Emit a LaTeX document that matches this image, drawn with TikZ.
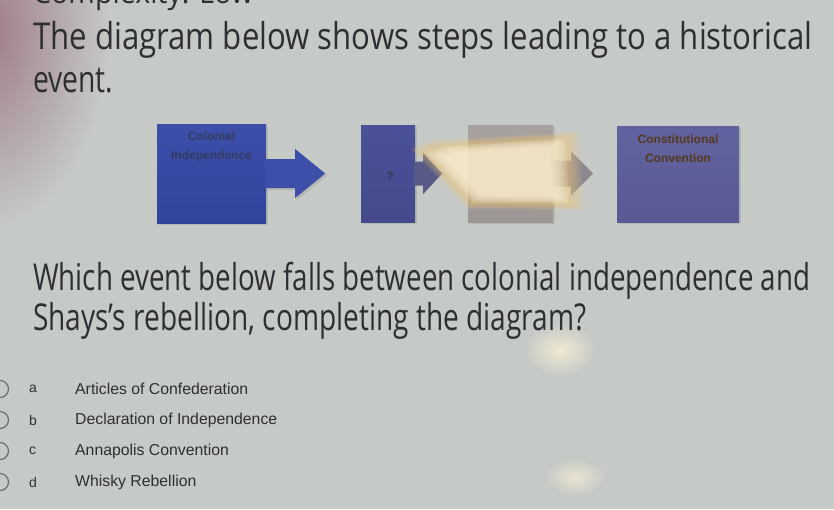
\documentclass[tikz,border=0pt]{standalone}
\usepackage{fontspec}
\usepackage{graphicx}
\setmainfont{Open Sans}
\newfontfamily\optfont{Liberation Sans}
\usetikzlibrary{positioning, calc, shadows, fadings}

\definecolor{paper}{HTML}{C6CAC6}
\definecolor{paperpink}{HTML}{9C7882}
\definecolor{ink}{HTML}{2E2F33}
\definecolor{stepA}{HTML}{3D4FA8}
\definecolor{stepAd}{HTML}{32439C}
\definecolor{stepB}{HTML}{4B5198}
\definecolor{stepBd}{HTML}{454A8C}
\definecolor{stepC}{HTML}{A7A2A0}
\definecolor{stepCd}{HTML}{9C9795}
\definecolor{stepD}{HTML}{6163A0}
\definecolor{stepDd}{HTML}{595A93}
\definecolor{arrowB}{HTML}{575A86}
\definecolor{arrowC}{HTML}{8D8890}
\definecolor{glaregold}{HTML}{F0C676}
\definecolor{glarecream}{HTML}{FBF1D6}

\tikzfading[name=softspot, inner color=transparent!0, outer color=transparent!100]

% squeeze a line of text to a given width
\newcommand{\fitline}[2]{\resizebox{#1}{\height}{#2}}

\begin{document}
\begin{tikzpicture}[x=1pt, y=-1pt,
    every node/.style={inner sep=0pt},
    headtxt/.style={anchor=base west, text=ink, font=\fontsize{37}{37}\selectfont},
    stepbox/.style={minimum width=#1, drop shadow={opacity=0.25, shadow xshift=2pt, shadow yshift=-2pt}},
    steptxt/.style={align=center, font=\optfont\bfseries\fontsize{12}{19}\selectfont},
    opttxt/.style={anchor=west, text=ink, font=\optfont\fontsize{15.8}{16}\selectfont},
    optletter/.style={anchor=west, text=ink, font=\optfont\fontsize{14}{14}\selectfont},
    radio/.style={draw=ink!70, line width=1.2pt}]

    % Background
    \useasboundingbox (0,0) rectangle (834,509);
    \fill[paper] (0,0) rectangle (834,509);
    \fill[paperpink, path fading=softspot] (-20,30) ellipse (130 and 200);

    % Heading, cut at the top
    \node[headtxt, font=\fontsize{30}{30}\selectfont] (cut) at (33,3) {\fitline{220pt}{Complexity: Low}};
    \node[headtxt] (head1) at (33,49) {\fitline{779pt}{The diagram below shows steps leading to a historical}};
    \node[headtxt] (head2) at (33,92) {\fitline{80pt}{event.}};

    % Steps
    \node[stepbox=109pt, minimum height=99pt, top color=stepA, bottom color=stepAd] (c1) at (211.5,173.5) {};
    \node[stepbox=54pt, minimum height=97pt, top color=stepB, bottom color=stepBd] (c2) at (388,173.5) {};
    \node[stepbox=85pt, minimum height=97pt, top color=stepC, bottom color=stepCd] (c3) at (510.5,173.5) {};
    \node[stepbox=122pt, minimum height=96pt, top color=stepD, bottom color=stepDd] (c4) at (678,174) {};

    % Arrows
    \fill[stepA, drop shadow={opacity=0.25, shadow xshift=2pt, shadow yshift=-2pt}]
        ($(c1.east)+(-1,-14.5)$) -- ++(30,0) -- ++(0,-10) -- ($(c1.east)+(59,0)$)
        -- ($(c1.east)+(29,24.5)$) -- ++(0,-10) -- ($(c1.east)+(-1,14.5)$) -- cycle;
    \fill[arrowB]
        ($(c2.east)+(-1,-12)$) -- ++(9,0) -- ++(0,-8.5) -- ($(c2.east)+(27,0)$)
        -- ($(c2.east)+(8,20.5)$) -- ++(0,-8.5) -- ($(c2.east)+(-1,12)$) -- cycle;
    \fill[arrowC]
        ($(c3.east)+(-1,-13)$) -- ++(19,0) -- ++(0,-9) -- ($(c3.east)+(40,0)$)
        -- ($(c3.east)+(18,22)$) -- ++(0,-9) -- ($(c3.east)+(-1,13)$) -- cycle;

    % Labels in the steps
    \node[steptxt, text=ink!60!stepA, below=8pt of c1.north] (t1) {Colonial\\Independence};
    \node[steptxt, text=ink!80!stepB, font=\optfont\bfseries\fontsize{12}{12}\selectfont] (t2) at ($(c2.center)+(2,3)$) {?};
    \node[steptxt, text=brown!45!black, below=9pt of c4.north] (t4) {Constitutional\\Convention};

    % Glare on the screen
    \foreach \s in {1.16,1.12,...,0.96}
        \fill[glaregold, opacity=0.13, scale around={\s:(500,172)}]
            (423,152) -- (440,145) -- (568,137) -- (572,205) -- (472,204) -- cycle;
    \foreach \s in {0.96,0.92,...,0.7}
        \fill[glarecream, opacity=0.2, scale around={\s:(505,172)}]
            (423,152) -- (440,145) -- (568,137) -- (572,205) -- (472,204) -- cycle;
    \fill[glarecream, opacity=0.8, path fading=softspot] (560,350) ellipse (36 and 26);
    \fill[glarecream, opacity=0.7, path fading=softspot] (575,477) ellipse (30 and 18);

    % Question
    \node[headtxt] (q1) at (33,290) {\fitline{777pt}{Which event below falls between colonial independence and}};
    \node[headtxt] (q2) at (33,330) {\fitline{553pt}{Shays’s rebellion, completing the diagram?}};

    % Options
    \foreach \y/\l/\t in {389/a/Articles of Confederation,
                          420/b/Declaration of Independence,
                          451/c/Annapolis Convention,
                          482/d/Whisky Rebellion}{
        \draw[radio] (0,\y) circle (8.5);
        \node[optletter] (opt\l) at (29,\y) {\l};
        \node[opttxt] (txt\l) at (75,\y) {\t};
    }
\end{tikzpicture}
\end{document}
